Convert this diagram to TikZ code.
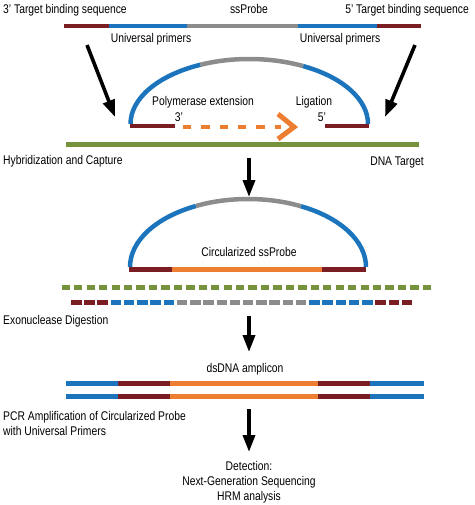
\documentclass[tikz,border=0pt]{standalone}
\usepackage{fontspec}
\setmainfont{Liberation Sans}[FakeStretch=0.82]
\usetikzlibrary{arrows.meta}
\usetikzlibrary{positioning}
\tikzset{>=latex}
\definecolor{pblue}{RGB}{28,117,188}
\definecolor{pred}{RGB}{122,30,36}
\definecolor{pgray}{RGB}{140,140,140}
\definecolor{porange}{RGB}{237,125,49}
\definecolor{pgreen}{RGB}{118,146,60}
\tikzstyle{strand}=[line width=4.5pt]

\begin{document}
\begin{tikzpicture}[x=1pt, y=-1pt, font=\fontsize{12.6}{15}\selectfont,
  lbl/.style = {inner sep=0, anchor=base},
  big/.style = {-{Triangle[length=17pt,width=12pt]}, line width=3.6pt}]
	\useasboundingbox (0,0) rectangle (474,505);
	% labels
	\node[lbl, anchor=base west] (t3) at (3,14) {3' Target binding sequence};
	\node[lbl] (ssp) at (249,14) {ssProbe};
	\node[lbl, anchor=base east] (t5) at (469,14) {5' Target binding sequence};
	\node[lbl] (up1) at (151,43) {Universal primers};
	\node[lbl] (up2) at (340,43) {Universal primers};
	\node[lbl] (pol) at (203,106) {Polymerase extension};
	\node[lbl] (lig) at (314,106) {Ligation};
	\node[lbl] (p3) at (179,122) {3'};
	\node[lbl] (p5) at (322,122) {5'};
	\node[lbl, anchor=base west] (hyb) at (3,164.7) {Hybridization and Capture};
	\node[lbl] (dna) at (397,165) {DNA Target};
	\node[lbl] (circ) at (249,256.7) {Circularized ssProbe};
	\node[lbl, anchor=base west] (exo) at (3,324) {Exonuclease Digestion};
	\node[lbl] (ds) at (245,372.7) {dsDNA amplicon};
	\node[inner sep=0, anchor=north west, align=left] (pcr) at (3,411.5) {PCR Amplification of Circularized Probe\\with Universal Primers};
	\node[inner sep=0, anchor=north, align=center] (det) at (249,460.8) {Detection:\\Next-Generation Sequencing\\HRM analysis};
	% ssProbe
	\foreach \a/\b/\c in {64/109/pred, 109/187/pblue, 187/298/pgray, 298/377/pblue, 377/421/pred}
		\draw[strand, \c] (\a,26) -- (\b,26);
	% hybridized probe
	\draw[strand, pblue] (130.5,124) arc[start angle=180, end angle=114.3, x radius=118.75pt, y radius=65pt];
	\draw[strand, pgray] ([shift={(114.3:118.75pt and 65pt)}]249.25,124) arc[start angle=114.3, end angle=63, x radius=118.75pt, y radius=65pt];
	\draw[strand, pblue] ([shift={(63:118.75pt and 65pt)}]249.25,124) arc[start angle=63, end angle=0, x radius=118.75pt, y radius=65pt];
	\draw[strand, pred] (129.5,126) -- (174.5,126);
	\draw[strand, pred] (325,126) -- (369,126);
	\coordinate (es) at (183,127);
	\coordinate (tip) at (294,127);
	\draw[porange, line width=4.7pt, dash pattern=on 8.3pt off 10pt] (es) -- (281,127);
	\draw[porange, line width=5pt] ([shift={(-16,-13)}]tip) -- (tip) -- ([shift={(-16,12)}]tip);
	\draw[strand, pgreen] (66,144.5) -- (419,144.5);
	% circularized probe
	\draw[strand, pblue] (130,267) arc[start angle=180, end angle=116.2, x radius=118pt, y radius=68pt];
	\draw[strand, pgray] ([shift={(116.2:118pt and 68pt)}]248,267) arc[start angle=116.2, end angle=63.3, x radius=118pt, y radius=68pt];
	\draw[strand, pblue] ([shift={(63.3:118pt and 68pt)}]248,267) arc[start angle=63.3, end angle=0, x radius=118pt, y radius=68pt];
	\foreach \a/\b/\c in {129/172/pred, 172/322/porange, 322/366/pred}
		\draw[strand, \c] (\a,269.3) -- (\b,269.3);
	% digestion
	\foreach \i in {0,...,29}
		\draw[pgreen, line width=5pt] ({61.7+12.45*\i},287.3) -- ++(8.3,0);
	\foreach \c [count=\i from 0] in {pred,pred,pred,pblue,pblue,pblue,pblue,pblue,pgray,pgray,pgray,pgray,pgray,pgray,pgray,pgray,pgray,pgray,pblue,pblue,pblue,pblue,pblue,pred,pred,pred}
		\draw[\c, line width=5pt] ({71+13.23*\i},302.7) -- ++(10.5,0);
	% amplicon
	\foreach \y in {383.3,396.7}
		\foreach \a/\b/\c in {66/118/pblue, 118/170/pred, 170/318/porange, 318/370/pred, 370/424/pblue}
			\draw[\c, line width=5pt] (\a,\y) -- (\b,\y);
	% arrows
	\coordinate (a1s) at (87,45);
	\coordinate (a1e) at (115,117);
	\coordinate (a2s) at (415,45);
	\coordinate (a2e) at (385,117);
	\coordinate (a3s) at (249,158);
	\coordinate (a3e) at (249,197);
	\coordinate (a4s) at (249,316);
	\coordinate (a4e) at (249,352);
	\coordinate (a5s) at (249,409);
	\coordinate (a5e) at (249,452);
	\draw[big] (a1s) -- (a1e);
	\draw[big] (a2s) -- (a2e);
	\draw[big] (a3s) -- (a3e);
	\draw[big] (a4s) -- (a4e);
	\draw[big] (a5s) -- (a5e);
\end{tikzpicture}
\end{document}
